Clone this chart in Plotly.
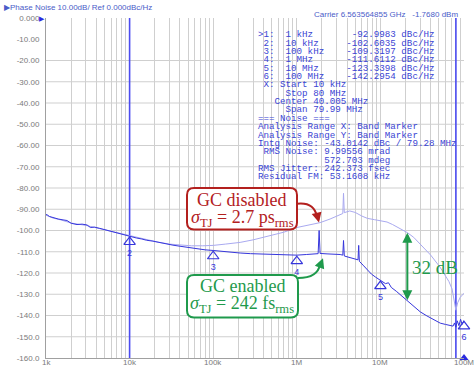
import plotly.graph_objects as go

# ---------------- data ----------------
dark_freq = [1000, 1030, 1100, 1210, 1400, 1600, 1780, 2000, 2350, 2700, 3100, 3400, 3800, 4400,
             5000, 5600, 6300, 7200, 8500, 10000, 12000, 14000, 16000, 19000, 22000, 27000,
             33000, 40000, 50000, 65000, 80000, 100000, 130000, 170000, 210000, 280000, 380000,
             500000, 700000, 1000000, 1300000, 1600000, 1800000, 1850000, 1900000, 2300000,
             2800000, 3300000, 3550000, 3620000, 3700000, 4200000, 4800000, 5400000, 5500000,
             5600000, 6200000, 7000000, 7800000, 8800000, 10000000, 11500000, 12500000,
             13500000, 15500000, 18000000, 21000000, 25000000, 30000000, 36000000, 43000000,
             52000000, 60000000, 68000000, 74000000, 77000000, 80000000, 83000000, 87000000,
             91000000, 95000000, 100000000]
dark_db = [-92.5, -92.6, -93.4, -94.0, -94.6, -95.0, -95.3, -96.6, -97.2, -97.0, -97.4, -98.6,
           -98.4, -99.0, -99.6, -99.9, -100.4, -101.3, -102.0, -102.6, -103.5, -104.0, -104.6,
           -105.0, -105.6, -106.3, -106.9, -107.4, -108.0, -108.7, -109.1, -109.4, -109.9,
           -110.3, -110.6, -110.9, -111.1, -111.3, -111.5, -111.6, -111.3, -111.1, -110.9,
           -100.0, -110.8, -111.0, -111.1, -111.3, -111.6, -104.7, -112.0, -112.6, -113.2,
           -113.8, -107.0, -114.5, -116.3, -118.5, -120.5, -122.0, -123.3, -125.0, -124.6,
           -126.8, -128.6, -130.8, -133.5, -135.8, -138.3, -140.2, -142.0, -143.6, -144.2,
           -144.8, -145.0, -143.5, -145.5, -142.5, -144.8, -141.8, -144.2, -142.3]

light_freq = [1000, 1200, 1500, 2000, 3000, 5000, 7000, 10000, 15000, 22000, 30000, 40000, 55000,
              75000, 100000, 140000, 210000, 300000, 450000, 700000, 1000000, 1400000, 1900000,
              2500000, 3000000, 3550000, 3620000, 3700000, 4300000, 5000000, 6000000, 7000000,
              8500000, 10000000, 12000000, 14000000, 17000000, 21000000, 25000000, 30000000,
              35000000, 40000000, 51600000, 60000000, 66000000, 72000000, 76000000, 80000000,
              84000000, 90000000, 100000000]
light_db = [-92.8, -94.1, -95.0, -96.5, -97.6, -99.6, -101.0, -102.6, -104.2, -105.5, -106.4,
            -106.9, -107.2, -107.2, -107.0, -106.4, -105.6, -104.4, -102.8, -100.8, -98.6, -97.3,
            -96.3, -94.6, -93.2, -92.0, -82.5, -91.6, -90.8, -91.5, -93.2, -94.3, -94.9, -95.3,
            -96.0, -97.2, -98.9, -101.0, -103.2, -106.5, -109.0, -111.6, -117.2, -121.0, -124.0,
            -127.5, -132.0, -137.5, -134.0, -131.5, -129.5]

marker_freq = [1e3, 1e4, 1e5, 1e6, 1e7, 1e8]
marker_db = [-92.9983, -102.6035, -109.3197, -111.6112, -123.3398, -142.2954]
marker_label = ["1 kHz", "10 kHz", "100 kHz", "1 MHz", "10 MHz", "100 MHz"]

band_freq = [1e4, 8e7]

x_tick_vals = [1e3, 1e4, 1e5, 1e6, 1e7, 1e8]
x_tick_text = ["1k", "10k", "100k", "1M", "10M", "100M"]
y_tick_vals = [0, -10, -20, -30, -40, -50, -60, -70, -80, -90, -100, -110, -120, -130, -140,
               -150, -160]
y_tick_text = ["0.000", "-10.00", "-20.00", "-30.00", "-40.00", "-50.00", "-60.00", "-70.00",
               "-80.00", "-90.00", "-100.0", "-110.0", "-120.0", "-130.0", "-140.0", "-150.0",
               "-160.0"]
y_grid_levels = [-20, -30, -40, -50, -60, -70, -80, -90, -100, -110, -120, -130, -140, -150]

gap_freq = 21000000
info_tail = [
    " X: Start 10 kHz",
    "     Stop 80 MHz",
    "   Center 40.005 MHz",
    "     Span 79.99 MHz",
    "=== Noise ===",
    "Analysis Range X: Band Marker",
    "Analysis Range Y: Band Marker",
    "Intg Noise: -43.0142 dBc / 79.28 MHz",
    " RMS Noise: 9.99556 mrad",
    "            572.703 mdeg",
    "RMS Jitter: 242.373 fsec",
    "Residual FM: 53.1608 kHz",
]

# ---------------- geometry helpers ----------------
W, H = 474, 373
L, R, T, B = 46, 10, 18, 11


def px(x):
    return (x - L) / (W - L - R)


def py(y):
    return (H - B - y) / (H - T - B)


DARK = "#3636dc"
LIGHT = "#a9a9f0"
BAND = "#4b4bf0"
TXT = "#3a44d4"
RED = "#b3201e"
GREEN = "#1f9a4c"
GRID = "#cfcfcf"

fig = go.Figure()

# band marker lines
for f in band_freq:
    fig.add_trace(go.Scatter(x=[f, f], y=[-160, 0], mode="lines",
                             line=dict(color=BAND, width=1.6), hoverinfo="skip"))

fig.add_trace(go.Scatter(x=light_freq, y=light_db, mode="lines",
                         line=dict(color=LIGHT, width=1)))
fig.add_trace(go.Scatter(x=dark_freq, y=dark_db, mode="lines",
                         line=dict(color=DARK, width=1)))

# markers
fig.add_trace(go.Scatter(x=marker_freq[:1], y=[v + 2.6 for v in marker_db[:1]], mode="markers",
                         marker=dict(symbol="triangle-down-open", size=10, color=DARK,
                                     line=dict(width=1.2)), cliponaxis=False))
fig.add_trace(go.Scatter(x=marker_freq[1:], y=[v - 2.8 for v in marker_db[1:]],
                         mode="markers+text",
                         text=[str(i + 2) for i in range(len(marker_freq) - 1)],
                         textposition="bottom center",
                         textfont=dict(family="Liberation Sans", size=9, color=DARK),
                         marker=dict(symbol="triangle-up-open", size=10, color=DARK,
                                     line=dict(width=1.2)), cliponaxis=False))
# axis end markers
fig.add_trace(go.Scatter(x=[x_tick_vals[0], x_tick_vals[-1]], y=[-160, -160], mode="markers",
                         marker=dict(symbol="triangle-up", size=8, color="#2a2ae0"),
                         cliponaxis=False))

# horizontal grid
for lv in y_grid_levels:
    fig.add_shape(type="line", xref="paper", x0=0, x1=1, yref="y", y0=lv, y1=lv,
                  line=dict(color=GRID, width=1), layer="below")

# 32 dB double arrow
import math
gap_x = math.log10(gap_freq)
gap_top = light_db[light_freq.index(gap_freq)]
gap_bot = dark_db[dark_freq.index(gap_freq)]
fig.add_annotation(x=gap_x, y=gap_top, ax=gap_x, ay=gap_bot, axref="x", ayref="y",
                   xref="x", yref="y", text="", showarrow=True, arrowhead=2, arrowsize=1,
                   arrowwidth=2, arrowcolor=GREEN, arrowside="end+start")
fig.add_annotation(x=gap_x, y=(gap_top + gap_bot) / 2, xref="x", yref="y",
                   text=f"{round(gap_top - gap_bot)} dB", showarrow=False, xanchor="left",
                   yanchor="middle", xshift=3,
                   font=dict(family="Liberation Serif", size=19, color=GREEN))

# rounded boxes
def rbox(x0, y0, x1, y1, r, color):
    path = (f"M {px(x0 + r)},{py(y0)} L {px(x1 - r)},{py(y0)} "
            f"Q {px(x1)},{py(y0)} {px(x1)},{py(y0 + r)} L {px(x1)},{py(y1 - r)} "
            f"Q {px(x1)},{py(y1)} {px(x1 - r)},{py(y1)} L {px(x0 + r)},{py(y1)} "
            f"Q {px(x0)},{py(y1)} {px(x0)},{py(y1 - r)} L {px(x0)},{py(y0 + r)} "
            f"Q {px(x0)},{py(y0)} {px(x0 + r)},{py(y0)} Z")
    fig.add_shape(type="path", path=path, xref="paper", yref="paper",
                  line=dict(color=color, width=2), fillcolor="white", layer="above")


rbox(187, 190, 297, 232, 7, RED)
rbox(187, 278, 298, 321, 7, GREEN)


def label(text, x, y, color, size=18):
    fig.add_annotation(x=px(x), y=py(y), xref="paper", yref="paper", text=text,
                       showarrow=False, xanchor="center", yanchor="middle",
                       font=dict(family="Liberation Serif", size=size, color=color))


label("GC disabled", 242, 202, RED)
label("<i>σ</i><sub>TJ</sub> = 2.7 ps<sub>rms</sub>", 242, 221, RED)
label("GC enabled", 242, 289, GREEN)
label("<i>σ</i><sub>TJ</sub> = 242 fs<sub>rms</sub>", 242, 308, GREEN)


def curve(x0, y0, cx, cy, x1, y1, color):
    fig.add_shape(type="path", xref="paper", yref="paper",
                  path=f"M {px(x0)},{py(y0)} Q {px(cx)},{py(cy)} {px(x1)},{py(y1)}",
                  line=dict(color=color, width=2), layer="above")


curve(297, 206, 314, 204, 317, 219, RED)
fig.add_annotation(x=px(319), y=py(225), xref="paper", yref="paper", ax=-2, ay=-8,
                   text="", showarrow=True, arrowhead=2, arrowsize=1, arrowwidth=2,
                   arrowcolor=RED)
curve(298, 281, 318, 281, 320, 267, GREEN)
fig.add_annotation(x=px(323), y=py(261), xref="paper", yref="paper", ax=-3, ay=8,
                   text="", showarrow=True, arrowhead=2, arrowsize=1, arrowwidth=2,
                   arrowcolor=GREEN)

# info block
info = []
for i, (lab, val) in enumerate(zip(marker_label, marker_db)):
    left = f"{'>' if i == 0 else ' '}{i + 1}:  {lab}".ljust(15)
    info.append(left + f"{val:.4f}".rjust(10) + " dBc/Hz")
info += info_tail
for k, line in enumerate(info):
    fig.add_annotation(x=px(256), y=py(35 + k * 8.45), xref="paper", yref="paper",
                       text=line.replace(" ", "&nbsp;"), showarrow=False, xanchor="left",
                       yanchor="middle",
                       font=dict(family="Liberation Mono", size=9.2, color=TXT))

# header texts
fig.add_annotation(x=px(2), y=py(7), xref="paper", yref="paper",
                   text="▶Phase Noise 10.00dB/ Ref 0.000dBc/Hz", showarrow=False,
                   xanchor="left", yanchor="middle",
                   font=dict(family="Liberation Sans", size=8, color="#4a5cc8"))
fig.add_annotation(x=px(312), y=py(14), xref="paper", yref="paper",
                   text="Carrier 6.563564855 GHz&nbsp;&nbsp;&nbsp;-1.7680 dBm", showarrow=False,
                   xanchor="left", yanchor="middle",
                   font=dict(family="Liberation Sans", size=8, color="#4a5cc8"))
fig.add_annotation(x=0, y=0, xref="paper", yref="y", text="▶", showarrow=False,
                   xanchor="right", yanchor="middle", xshift=1,
                   font=dict(size=7, color="#2a2ae0"))

# x tick labels
for v, t in zip(x_tick_vals, x_tick_text):
    fig.add_annotation(x=math.log10(v), y=-160, xref="x", yref="y", text=t,
                       showarrow=False, xanchor="center", yanchor="middle", yshift=-4,
                       font=dict(family="Liberation Sans", size=8, color="#7a7a7a"))

minor_vals = [m * 10 ** e for e in range(3, 8) for m in range(1, 10)] + [1e8]

fig.update_xaxes(type="log", range=[3, 8], tickvals=minor_vals, showticklabels=False,
                 showgrid=True, gridcolor=GRID, gridwidth=1, zeroline=False,
                 showline=True, linecolor="#a0a0a0", linewidth=1, ticks="")
fig.update_yaxes(range=[-160, 0], tickvals=y_tick_vals, ticktext=y_tick_text, showgrid=False,
                 zeroline=False, showline=True, linecolor="#a0a0a0", linewidth=1,
                 ticks="outside", ticklen=4, tickcolor="rgba(0,0,0,0)",
                 tickfont=dict(family="Liberation Sans", size=8, color="#7a7a7a"))

fig.update_layout(width=W, height=H, margin=dict(l=L, r=R, t=T, b=B, pad=0),
                  plot_bgcolor="white", paper_bgcolor="white", showlegend=False)

fig.write_html("out.html")
